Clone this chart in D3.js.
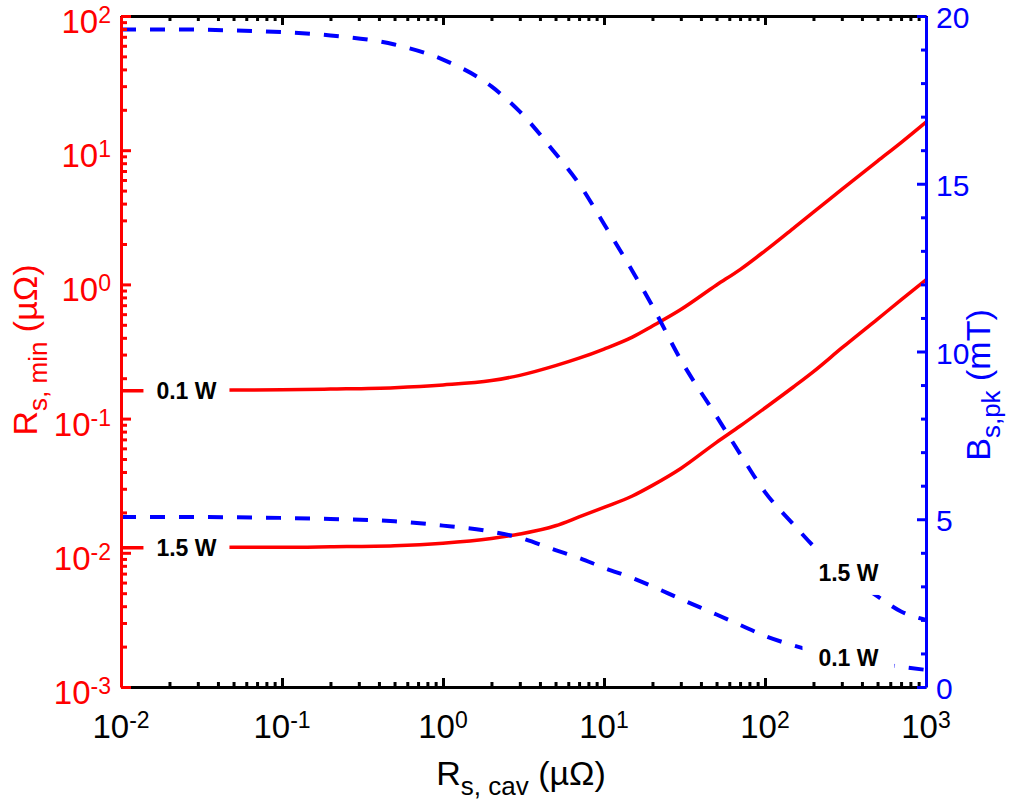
<!DOCTYPE html>
<html>
<head>
<meta charset="utf-8">
<script src="https://cdn.jsdelivr.net/npm/d3@7"></script>
<style>
  body { margin: 0; background: #fff; }
  svg { font-family: "Liberation Sans", Arial, Helvetica, sans-serif; }
</style>
</head>
<body>
<svg id="chart" width="1025" height="803"></svg>
<script>
// cavity surface resistance (x), shared by all curves
const rsCav = [0.01, 0.02, 0.05, 0.1, 0.2, 0.5, 1, 2, 3, 5, 7, 10, 15, 20, 30, 50, 70, 100, 150, 200, 300, 500, 700, 1000];

// Rs,min (left axis, log) for the two powers
const rsMin01 = [0.161, 0.162, 0.163, 0.164, 0.166, 0.170, 0.178, 0.192, 0.210, 0.248, 0.282, 0.330, 0.405, 0.490, 0.650, 0.990, 1.29, 1.78, 2.62, 3.45, 5.10, 8.30, 11.4, 16.2];
const rsMin15 = [0.0109, 0.0109, 0.0110, 0.0110, 0.0111, 0.0113, 0.0118, 0.0128, 0.0138, 0.0159, 0.0185, 0.0218, 0.0265, 0.0318, 0.0425, 0.0665, 0.088, 0.120, 0.172, 0.224, 0.336, 0.552, 0.766, 1.08];

// Bs,pk (right axis, mT)
const bPk15 = [19.6, 19.6, 19.57, 19.52, 19.42, 19.15, 18.7, 17.9, 17.15, 15.9, 15.0, 13.8, 12.4, 11.35, 9.75, 8.07, 6.95, 5.81, 4.85, 4.2, 3.45, 2.7, 2.25, 2.0];
const bPk01 = [5.07, 5.07, 5.06, 5.04, 5.01, 4.94, 4.81, 4.63, 4.45, 4.08, 3.85, 3.55, 3.25, 3.0, 2.62, 2.16, 1.85, 1.52, 1.24, 1.07, 0.87, 0.70, 0.60, 0.51];

// ticks
const xTicks = [0.01, 0.1, 1, 10, 100, 1000];
const yLeftTicks = [0.001, 0.01, 0.1, 1, 10, 100];
const yRightTicks = [0, 5, 10, 15, 20];
const yRightMinor = [1, 2, 3, 4, 6, 7, 8, 9, 11, 12, 13, 14, 16, 17, 18, 19];

// curve labels
const redLabels = ['0.1 W', '1.5 W'];
const blueLabels = ['1.5 W', '0.1 W'];

const RED = '#ff0000', BLUE = '#0000ff';

const svg = d3.select('#chart');
const plotL = 121, plotR = 926, plotT = 16, plotB = 687;

const x = d3.scaleLog().domain([0.01, 1000]).range([plotL, plotR]);
const yL = d3.scaleLog().domain([0.001, 100]).range([plotB, plotT]);
const yR = d3.scaleLinear().domain([0, 20]).range([plotB, plotT]);

function minorLog(d0, d1) {
    const out = [];
    for (let e = Math.round(Math.log10(d0)); e < Math.round(Math.log10(d1)); e++) {
        for (let k = 2; k <= 9; k++) out.push(k * Math.pow(10, e));
    }
    return out;
}

// ---- curves
const lineL = d3.line().x((d, i) => x(rsCav[i])).y(d => yL(d)).curve(d3.curveMonotoneX);
const lineR = d3.line().x((d, i) => x(rsCav[i])).y(d => yR(d)).curve(d3.curveMonotoneX);

for (let s of [rsMin01, rsMin15]) {
    svg.append('path').datum(s).attr('d', lineL)
        .attr('fill', 'none').attr('stroke', RED).attr('stroke-width', 3.5);
}
for (let s of [bPk15, bPk01]) {
    svg.append('path').datum(s).attr('d', lineR)
        .attr('fill', 'none').attr('stroke', BLUE).attr('stroke-width', 4)
        .attr('stroke-dasharray', '15,14');
}

// ---- curve labels (white box makes the gap in the line)
function curveLabel(text, cx, cy, w, h) {
    svg.append('rect').attr('x', cx - w / 2).attr('y', cy - h / 2)
        .attr('width', w).attr('height', h).attr('fill', '#fff');
    svg.append('text').attr('x', cx).attr('y', cy + 8)
        .attr('text-anchor', 'middle').attr('font-size', 23).attr('font-weight', 'bold')
        .attr('fill', '#000').text(text);
}
curveLabel(redLabels[0], x(0.0255), yL(rsMin01[0]), 86, 22);
curveLabel(redLabels[1], x(0.0255), yL(rsMin15[0]), 86, 22);
curveLabel(blueLabels[0], x(330), yR(3.4), 76, 44);
curveLabel(blueLabels[1], x(330), yR(0.86), 92, 26);

// ---- axes
function styleAxis(g, color, width) {
    g.selectAll('.domain').attr('stroke', color).attr('stroke-width', width);
    g.selectAll('.tick line').attr('stroke', color).attr('stroke-width', 3);
    g.selectAll('.tick text').remove();
}

// bottom
const gB = svg.append('g').attr('transform', `translate(0,${plotB})`);
gB.call(d3.axisBottom(x).tickValues(xTicks).tickSize(-9).tickSizeOuter(0).tickFormat(''));
gB.append('g').call(d3.axisBottom(x).tickValues(minorLog(0.01, 1000)).tickSize(-5).tickSizeOuter(0).tickFormat(''))
    .call(g => g.select('.domain').remove());
gB.call(styleAxis, '#000', 3);

// top
const gT = svg.append('g').attr('transform', `translate(0,${plotT})`);
gT.call(d3.axisTop(x).tickValues(xTicks).tickSize(-9).tickSizeOuter(0).tickFormat(''));
gT.append('g').call(d3.axisTop(x).tickValues(minorLog(0.01, 1000)).tickSize(-5).tickSizeOuter(0).tickFormat(''))
    .call(g => g.select('.domain').remove());
gT.call(styleAxis, '#000', 3);

// left
const gL = svg.append('g').attr('transform', `translate(${plotL},0)`);
gL.call(d3.axisLeft(yL).tickValues(yLeftTicks).tickSize(-10).tickSizeOuter(0).tickFormat(''));
gL.append('g').call(d3.axisLeft(yL).tickValues(minorLog(0.001, 100)).tickSize(-6).tickSizeOuter(0).tickFormat(''))
    .call(g => g.select('.domain').remove());
gL.call(styleAxis, RED, 3);

// right
const gR = svg.append('g').attr('transform', `translate(${plotR},0)`);
gR.call(d3.axisRight(yR).tickValues(yRightTicks).tickSize(-9).tickSizeOuter(0).tickFormat(''));
gR.append('g').call(d3.axisRight(yR).tickValues(yRightMinor).tickSize(-5).tickSizeOuter(0).tickFormat(''))
    .call(g => g.select('.domain').remove());
gR.call(styleAxis, BLUE, 3);

// ---- tick labels
function powLabel(sel, v) {
    const e = Math.round(Math.log10(v));
    sel.append('tspan').text('10');
    sel.append('tspan').attr('font-size', 23).attr('dy', -10).text(String(e));
}

svg.append('g').selectAll('text').data(xTicks).join('text')
    .attr('x', d => x(d)).attr('y', 738).attr('text-anchor', 'middle')
    .attr('font-size', 33).attr('fill', '#000')
    .each(function (d) { powLabel(d3.select(this), d); });

svg.append('g').selectAll('text').data(yLeftTicks).join('text')
    .attr('x', 111).attr('y', d => yL(d) + 17).attr('text-anchor', 'end')
    .attr('font-size', 33).attr('fill', RED)
    .each(function (d) { powLabel(d3.select(this), d); });

svg.append('g').selectAll('text').data(yRightTicks).join('text')
    .attr('x', 936).attr('y', d => yR(d) + 12)
    .attr('font-size', 30).attr('fill', BLUE)
    .text(d => d);

// ---- axis titles
function title(g, main, sub, rest) {
    g.append('tspan').text(main);
    g.append('tspan').attr('font-size', 26).attr('dy', 10).text(sub);
    g.append('tspan').attr('dy', -10).text(rest);
}

svg.append('text').attr('x', 521).attr('y', 785).attr('text-anchor', 'middle')
    .attr('font-size', 34).attr('fill', '#000')
    .call(title, 'R', 's, cav', ' (\u00b5\u03a9)');

svg.append('text').attr('transform', 'translate(37,350) rotate(-90)').attr('text-anchor', 'middle')
    .attr('font-size', 34).attr('fill', RED)
    .call(title, 'R', 's, min', ' (\u00b5\u03a9)');

svg.append('text').attr('transform', 'translate(990,385) rotate(-90)').attr('text-anchor', 'middle')
    .attr('font-size', 34).attr('fill', BLUE)
    .call(title, 'B', 's,pk', ' (mT)');
</script>
</body>
</html>
